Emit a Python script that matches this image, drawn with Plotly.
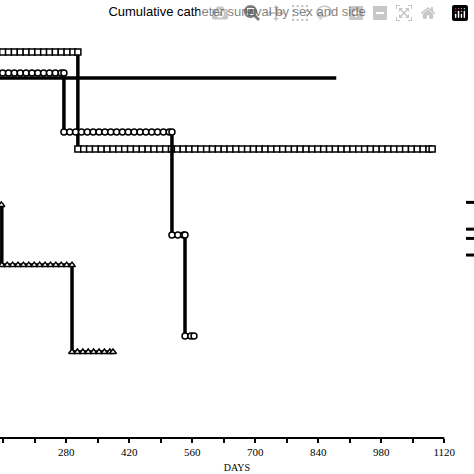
import numpy as np
import plotly.graph_objects as go

# step-function survival data (days, cumulative survival)
sq_days = [100, 306, 1093]
sq_surv = [1.0, 0.749, 0.749]
ci_days = [100, 275, 515, 544, 564]
ci_surv = [0.946, 0.793, 0.526, 0.264, 0.264]
so_days = [100, 880]
so_surv = [0.933, 0.933]
tr_days = [100, 137, 293, 384]
tr_surv = [0.604, 0.448, 0.223, 0.223]
tick_vals = [140, 280, 420, 560, 700, 840, 980, 1120]
tick_text = ["140", "280", "420", "560", "700", "840", "980", "1120"]

fig = go.Figure()

def add_series(days, surv, symbol, step):
    fig.add_trace(go.Scatter(x=days, y=surv, mode="lines", line_shape="hv",
                             line=dict(color="black", width=3.5), showlegend=False))
    if symbol:
        mx, my = [], []
        for i in range(len(days) - 1):
            xs = np.arange(days[i], days[i + 1] + 0.1, step)
            if len(xs) == 0 or xs[-1] < days[i + 1] - 1:
                xs = np.append(xs, days[i + 1])
            mx += list(xs)
            my += [surv[i]] * len(xs)
        fig.add_trace(go.Scatter(x=mx, y=my, mode="markers",
                                 marker=dict(symbol=symbol, size=6, color="white",
                                             line=dict(color="black", width=1.5)),
                                 showlegend=False))

add_series(so_days, so_surv, None, 0)
add_series(sq_days, sq_surv, "square", 13)
add_series(ci_days, ci_surv, "circle", 13)
add_series(tr_days, tr_surv, "triangle-up", 12)

for py in [219, 248, 258, 276]:
    fig.add_shape(type="line", xref="paper", yref="paper", x0=466/474, x1=1.0,
                  y0=1 - py/474, y1=1 - py/474, line=dict(color="black", width=3))

fig.update_layout(
    width=474, height=474, margin=dict(l=0, r=0, t=0, b=36),
    plot_bgcolor="white", paper_bgcolor="white",
    title=dict(text="Cumulative catheter survival by sex and side", x=0.5, xanchor="center",
               y=1 - 11/474, yanchor="middle",
               font=dict(family="Liberation Sans", size=13, color="black")),
    xaxis=dict(range=[133, 1186], tickvals=tick_vals, ticktext=tick_text,
               showgrid=False, zeroline=False, showline=False, ticks="outside",
               ticklen=4, tickwidth=2, tickcolor="black",
               minor=dict(tickvals=[210, 350, 490, 630, 770, 910, 1050], ticks="outside",
                          ticklen=4, tickwidth=2, tickcolor="black"),
               tickfont=dict(family="Liberation Serif", size=11, color="black"),
               title=dict(text="DAYS", font=dict(family="Liberation Serif", size=10, color="black"),
                          standoff=6)),
    yaxis=dict(range=[0, 1.135], visible=False),
)
fig.add_shape(type="line", xref="x", yref="paper", x0=133, x1=1120, y0=0, y1=0,
              line=dict(color="black", width=2))
fig.write_html("out.html",
               post_script="document.body.style.margin='0';document.body.style.overflow='hidden';")
